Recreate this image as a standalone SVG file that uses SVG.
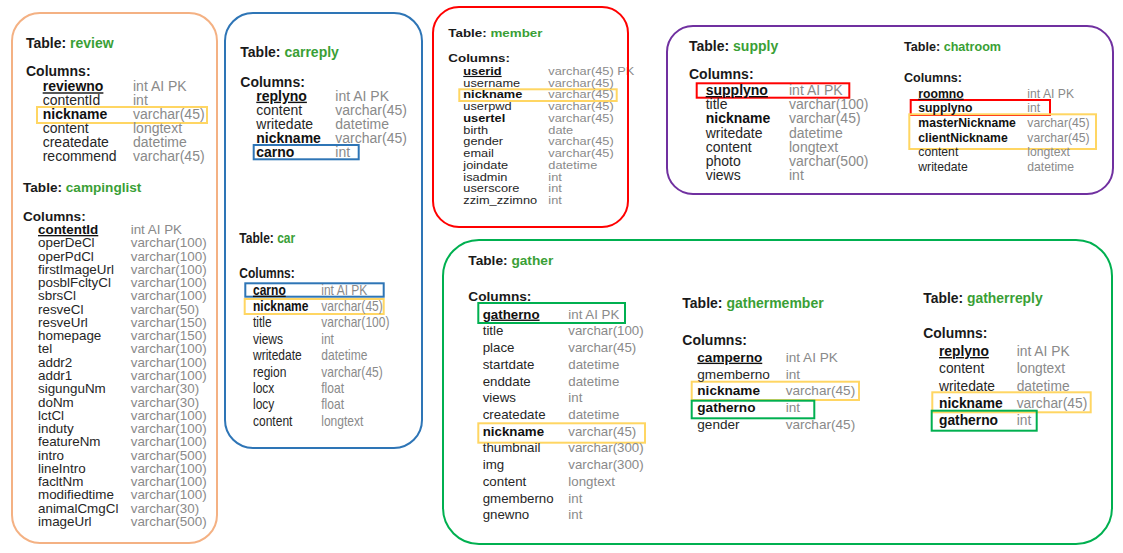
<svg xmlns="http://www.w3.org/2000/svg" width="1123" height="553" viewBox="0 0 1123 553">
<style>
text{font-family:"Liberation Sans",Arial,sans-serif}
.panel{fill:none;stroke-width:2}
.h{font-weight:bold;fill:#1a1a1a}
.tn{fill:#3a9f36}
.n{fill:#262626}
.b{font-weight:bold;fill:#111}
.pk{font-weight:bold;fill:#111;text-decoration:underline}
.ty{fill:#8a8a8a}
.hl{fill:none;stroke-width:2}
.y{stroke:#ffd663}
.bl{stroke:#2e75b6}
.r{stroke:#ff0000}
.g{stroke:#00b050}
</style>
<rect width="1123" height="553" fill="#fff"/>
<g id="connectors"></g>

<g id="panel-orange">
<rect class="panel" x="12" y="13" width="205" height="530" rx="28" stroke="#f4b183"/>
<g id="review" font-size="14">
<text x="26" y="48" class="h">Table: <tspan class="tn">review</tspan></text>
<text x="26" y="76" class="h">Columns:</text>
<rect class="hl y" x="37" y="107" width="170" height="16"/>
<text x="42.7" y="91.3" class="pk">reviewno</text><text x="133" y="91.3" class="ty">int AI PK</text>
<text x="42.7" y="105.2" class="n">contentId</text><text x="133" y="105.2" class="ty">int</text>
<text x="42.7" y="119.1" class="b">nickname</text><text x="133" y="119.1" class="ty">varchar(45)</text>
<text x="42.7" y="133" class="n">content</text><text x="133" y="133" class="ty">longtext</text>
<text x="42.7" y="146.9" class="n">createdate</text><text x="133" y="146.9" class="ty">datetime</text>
<text x="42.7" y="160.8" class="n">recommend</text><text x="133" y="160.8" class="ty">varchar(45)</text>
</g>
<g id="campinglist" font-size="13.4">
<text x="23" y="192" class="h" font-size="13.6">Table: <tspan class="tn">campinglist</tspan></text>
<text x="23" y="221" class="h" font-size="13.6">Columns:</text>
<text x="38" y="234" class="pk">contentId</text><text x="130.7" y="234" class="ty">int AI PK</text>
<text x="38" y="247.3" class="n">operDeCl</text><text x="130.7" y="247.3" class="ty">varchar(100)</text>
<text x="38" y="260.5" class="n">operPdCl</text><text x="130.7" y="260.5" class="ty">varchar(100)</text>
<text x="38" y="273.8" class="n">firstImageUrl</text><text x="130.7" y="273.8" class="ty">varchar(100)</text>
<text x="38" y="287.1" class="n">posblFcltyCl</text><text x="130.7" y="287.1" class="ty">varchar(100)</text>
<text x="38" y="300.4" class="n">sbrsCl</text><text x="130.7" y="300.4" class="ty">varchar(100)</text>
<text x="38" y="313.6" class="n">resveCl</text><text x="130.7" y="313.6" class="ty">varchar(50)</text>
<text x="38" y="326.9" class="n">resveUrl</text><text x="130.7" y="326.9" class="ty">varchar(150)</text>
<text x="38" y="340.2" class="n">homepage</text><text x="130.7" y="340.2" class="ty">varchar(150)</text>
<text x="38" y="353.4" class="n">tel</text><text x="130.7" y="353.4" class="ty">varchar(100)</text>
<text x="38" y="366.7" class="n">addr2</text><text x="130.7" y="366.7" class="ty">varchar(100)</text>
<text x="38" y="380" class="n">addr1</text><text x="130.7" y="380" class="ty">varchar(100)</text>
<text x="38" y="393.2" class="n">sigunguNm</text><text x="130.7" y="393.2" class="ty">varchar(30)</text>
<text x="38" y="406.5" class="n">doNm</text><text x="130.7" y="406.5" class="ty">varchar(30)</text>
<text x="38" y="419.8" class="n">lctCl</text><text x="130.7" y="419.8" class="ty">varchar(100)</text>
<text x="38" y="433.1" class="n">induty</text><text x="130.7" y="433.1" class="ty">varchar(100)</text>
<text x="38" y="446.3" class="n">featureNm</text><text x="130.7" y="446.3" class="ty">varchar(100)</text>
<text x="38" y="459.6" class="n">intro</text><text x="130.7" y="459.6" class="ty">varchar(500)</text>
<text x="38" y="472.9" class="n">lineIntro</text><text x="130.7" y="472.9" class="ty">varchar(100)</text>
<text x="38" y="486.1" class="n">facltNm</text><text x="130.7" y="486.1" class="ty">varchar(100)</text>
<text x="38" y="499.4" class="n">modifiedtime</text><text x="130.7" y="499.4" class="ty">varchar(100)</text>
<text x="38" y="512.7" class="n">animalCmgCl</text><text x="130.7" y="512.7" class="ty">varchar(30)</text>
<text x="38" y="525.9" class="n">imageUrl</text><text x="130.7" y="525.9" class="ty">varchar(500)</text>
</g>
</g>

<g id="panel-blue">
<rect class="panel" x="225" y="13" width="197" height="435" rx="28" stroke="#2e75b6"/>
<g id="carreply" font-size="14">
<text x="240.3" y="56.7" class="h">Table: <tspan class="tn">carreply</tspan></text>
<text x="240.3" y="86.7" class="h">Columns:</text>
<rect class="hl bl" x="253.7" y="145" width="105" height="14.3"/>
<text x="256.3" y="100.7" class="pk">replyno</text><text x="335.3" y="100.7" class="ty">int AI PK</text>
<text x="256.3" y="114.7" class="n">content</text><text x="335.3" y="114.7" class="ty">varchar(45)</text>
<text x="256.3" y="128.7" class="n">writedate</text><text x="335.3" y="128.7" class="ty">datetime</text>
<text x="256.3" y="142.7" class="b">nickname</text><text x="335.3" y="142.7" class="ty">varchar(45)</text>
<text x="256.3" y="156.7" class="b">carno</text><text x="335.3" y="156.7" class="ty">int</text>
</g>
<g id="car">
<rect class="hl bl" x="245.3" y="283.3" width="138.4" height="13.4"/>
<rect class="hl y" x="244.7" y="299" width="139" height="15"/>
<g font-size="14" transform="matrix(0.86,0,0,1,239.3,0)">
<text x="0" y="243.3" class="h">Table: <tspan class="tn">car</tspan></text>
<text x="0" y="278.3" class="h">Columns:</text>
<text x="15.9" y="294.6" class="pk">carno</text><text x="95.3" y="294.6" class="ty">int AI PK</text>
<text x="15.9" y="311" class="b">nickname</text><text x="95.3" y="311" class="ty">varchar(45)</text>
<text x="15.9" y="327.4" class="n">title</text><text x="95.3" y="327.4" class="ty">varchar(100)</text>
<text x="15.9" y="343.8" class="n">views</text><text x="95.3" y="343.8" class="ty">int</text>
<text x="15.9" y="360.2" class="n">writedate</text><text x="95.3" y="360.2" class="ty">datetime</text>
<text x="15.9" y="376.6" class="n">region</text><text x="95.3" y="376.6" class="ty">varchar(45)</text>
<text x="15.9" y="393" class="n">locx</text><text x="95.3" y="393" class="ty">float</text>
<text x="15.9" y="409.4" class="n">locy</text><text x="95.3" y="409.4" class="ty">float</text>
<text x="15.9" y="425.8" class="n">content</text><text x="95.3" y="425.8" class="ty">longtext</text>
</g>
</g>
</g>

<g id="panel-red">
<g id="member">
<rect class="hl y" x="459.3" y="89.3" width="157.4" height="11.7"/>
<g font-size="12.8" transform="matrix(1,0,0,0.88,0,0)">
<text x="448.3" y="42.39" class="h" font-size="13.4">Table: <tspan class="tn">member</tspan></text>
<text x="448.3" y="70.11" class="h" font-size="13.4">Columns:</text>
<text x="463.3" y="85.23" class="pk">userid</text><text x="548.3" y="85.23" class="ty">varchar(45) PK</text>
<text x="463.3" y="98.52" class="n">username</text><text x="548.3" y="98.52" class="ty">varchar(45)</text>
<text x="463.3" y="111.93" class="b">nickname</text><text x="548.3" y="111.93" class="ty">varchar(45)</text>
<text x="463.3" y="125.23" class="n">userpwd</text><text x="548.3" y="125.23" class="ty">varchar(45)</text>
<text x="463.3" y="138.52" class="b">usertel</text><text x="548.3" y="138.52" class="ty">varchar(45)</text>
<text x="463.3" y="151.93" class="n">birth</text><text x="548.3" y="151.93" class="ty">date</text>
<text x="463.3" y="165.23" class="n">gender</text><text x="548.3" y="165.23" class="ty">varchar(45)</text>
<text x="463.3" y="178.52" class="n">email</text><text x="548.3" y="178.52" class="ty">varchar(45)</text>
<text x="463.3" y="191.82" class="n">joindate</text><text x="548.3" y="191.82" class="ty">datetime</text>
<text x="463.3" y="205.23" class="n">isadmin</text><text x="548.3" y="205.23" class="ty">int</text>
<text x="463.3" y="218.52" class="n">userscore</text><text x="548.3" y="218.52" class="ty">int</text>
<text x="463.3" y="231.82" class="n">zzim_zzimno</text><text x="548.3" y="231.82" class="ty">int</text>
</g>
</g>
<rect class="panel" x="433" y="7" width="195" height="220" rx="26" stroke="#ff0000"/>
</g>

<g id="panel-purple">
<rect class="panel" x="667" y="26" width="446" height="168" rx="26" stroke="#7030a0"/>
<g id="supply" font-size="14">
<text x="689" y="51" class="h">Table: <tspan class="tn">supply</tspan></text>
<text x="689" y="79" class="h">Columns:</text>
<rect class="hl r" x="696.7" y="83.3" width="152.6" height="14.4"/>
<text x="705.7" y="95" class="pk">supplyno</text><text x="789" y="95" class="ty">int AI PK</text>
<text x="705.7" y="109.2" class="n">title</text><text x="789" y="109.2" class="ty">varchar(100)</text>
<text x="705.7" y="123.3" class="b">nickname</text><text x="789" y="123.3" class="ty">varchar(45)</text>
<text x="705.7" y="137.5" class="n">writedate</text><text x="789" y="137.5" class="ty">datetime</text>
<text x="705.7" y="151.6" class="n">content</text><text x="789" y="151.6" class="ty">longtext</text>
<text x="705.7" y="165.8" class="n">photo</text><text x="789" y="165.8" class="ty">varchar(500)</text>
<text x="705.7" y="179.9" class="n">views</text><text x="789" y="179.9" class="ty">int</text>
</g>
<g id="chatroom" font-size="12.2">
<text x="904" y="51" class="h" font-size="12.6">Table: <tspan class="tn">chatroom</tspan></text>
<text x="904" y="81.7" class="h" font-size="12.6">Columns:</text>
<rect class="hl r" x="910.7" y="100" width="139.3" height="15"/>
<rect class="hl y" x="909.3" y="114.3" width="186.7" height="34.7"/>
<text x="918.3" y="97.7" class="pk">roomno</text><text x="1027.3" y="97.7" class="ty">int AI PK</text>
<text x="918.3" y="112.4" class="b">supplyno</text><text x="1027.3" y="112.4" class="ty">int</text>
<text x="918.3" y="127" class="b">masterNickname</text><text x="1027.3" y="127" class="ty">varchar(45)</text>
<text x="918.3" y="141.7" class="b">clientNickname</text><text x="1027.3" y="141.7" class="ty">varchar(45)</text>
<text x="918.3" y="156.3" class="n">content</text><text x="1027.3" y="156.3" class="ty">longtext</text>
<text x="918.3" y="171" class="n">writedate</text><text x="1027.3" y="171" class="ty">datetime</text>
</g>
</g>

<g id="panel-green">
<rect class="panel" x="443" y="240" width="669" height="304" rx="36" stroke="#00b050"/>
<g id="gather" font-size="13.3">
<text x="468.3" y="265.3" class="h" font-size="13.7">Table: <tspan class="tn">gather</tspan></text>
<text x="468.3" y="301.3" class="h" font-size="13.7">Columns:</text>
<rect class="hl g" x="478.3" y="303" width="146.7" height="20"/>
<rect class="hl y" x="478.3" y="423.3" width="166.7" height="19.4"/>
<text x="482.7" y="318.6" class="pk">gatherno</text><text x="568.3" y="318.6" class="ty">int AI PK</text>
<text x="482.7" y="335.3" class="n">title</text><text x="568.3" y="335.3" class="ty">varchar(100)</text>
<text x="482.7" y="352" class="n">place</text><text x="568.3" y="352" class="ty">varchar(45)</text>
<text x="482.7" y="368.8" class="n">startdate</text><text x="568.3" y="368.8" class="ty">datetime</text>
<text x="482.7" y="385.5" class="n">enddate</text><text x="568.3" y="385.5" class="ty">datetime</text>
<text x="482.7" y="402.2" class="n">views</text><text x="568.3" y="402.2" class="ty">int</text>
<text x="482.7" y="418.9" class="n">createdate</text><text x="568.3" y="418.9" class="ty">datetime</text>
<text x="482.7" y="435.6" class="b">nickname</text><text x="568.3" y="435.6" class="ty">varchar(45)</text>
<text x="482.7" y="452.4" class="n">thumbnail</text><text x="568.3" y="452.4" class="ty">varchar(300)</text>
<text x="482.7" y="469.1" class="n">img</text><text x="568.3" y="469.1" class="ty">varchar(300)</text>
<text x="482.7" y="485.8" class="n">content</text><text x="568.3" y="485.8" class="ty">longtext</text>
<text x="482.7" y="502.5" class="n">gmemberno</text><text x="568.3" y="502.5" class="ty">int</text>
<text x="482.7" y="519.2" class="n">gnewno</text><text x="568.3" y="519.2" class="ty">int</text>
</g>
<g id="gathermember" font-size="13.6">
<text x="682.3" y="308.3" class="h" font-size="14">Table: <tspan class="tn">gathermember</tspan></text>
<text x="682.3" y="345" class="h" font-size="14">Columns:</text>
<rect class="hl y" x="691.7" y="381.7" width="167.3" height="18.3"/>
<rect class="hl g" x="691.7" y="400.7" width="122.6" height="17.6"/>
<text x="697.3" y="361.7" class="pk">camperno</text><text x="785.7" y="361.7" class="ty">int AI PK</text>
<text x="697.3" y="378.5" class="n">gmemberno</text><text x="785.7" y="378.5" class="ty">int</text>
<text x="697.3" y="395.3" class="b">nickname</text><text x="785.7" y="395.3" class="ty">varchar(45)</text>
<text x="697.3" y="412.1" class="b">gatherno</text><text x="785.7" y="412.1" class="ty">int</text>
<text x="697.3" y="428.9" class="n">gender</text><text x="785.7" y="428.9" class="ty">varchar(45)</text>
</g>
<g id="gatherreply" font-size="13.8">
<text x="923.3" y="303.3" class="h" font-size="13.9">Table: <tspan class="tn">gatherreply</tspan></text>
<text x="923.3" y="338.3" class="h" font-size="13.9">Columns:</text>
<rect class="hl y" x="932.3" y="392.3" width="158.4" height="20"/>
<rect class="hl g" x="931.7" y="410.7" width="105" height="20"/>
<text x="939" y="356" class="pk">replyno</text><text x="1016.7" y="356" class="ty">int AI PK</text>
<text x="939" y="373.3" class="n">content</text><text x="1016.7" y="373.3" class="ty">longtext</text>
<text x="939" y="390.5" class="n">writedate</text><text x="1016.7" y="390.5" class="ty">datetime</text>
<text x="939" y="407.8" class="b">nickname</text><text x="1016.7" y="407.8" class="ty">varchar(45)</text>
<text x="939" y="425" class="b">gatherno</text><text x="1016.7" y="425" class="ty">int</text>
</g>
</g>
</svg>
